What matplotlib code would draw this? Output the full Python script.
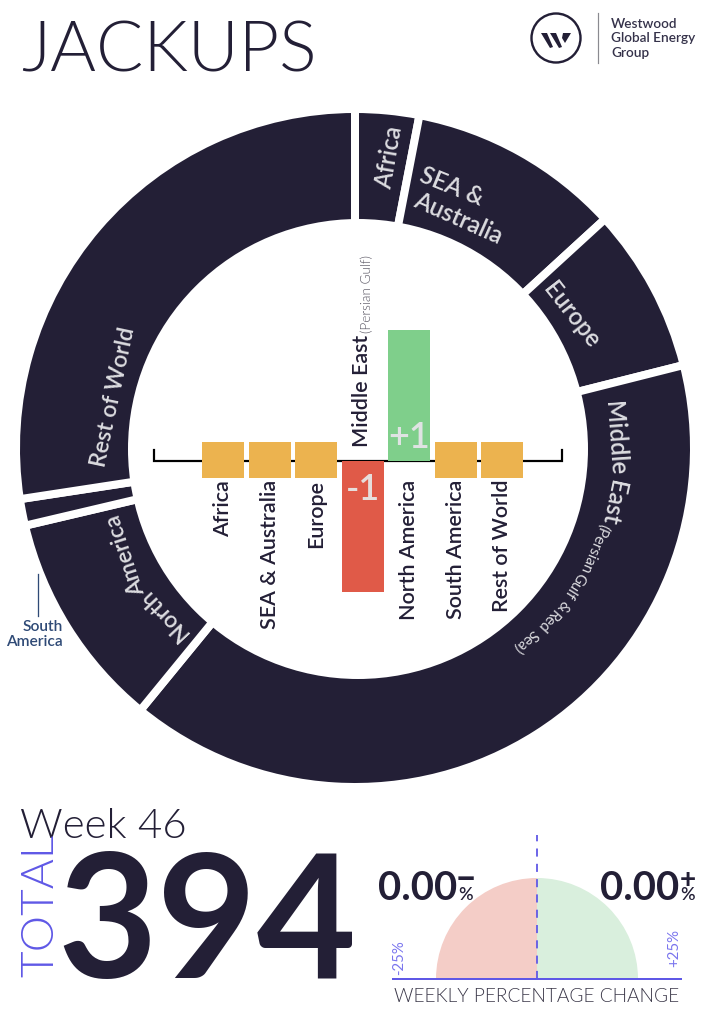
import numpy as np
import matplotlib
matplotlib.use("Agg")
import matplotlib.pyplot as plt
from matplotlib.patches import Wedge, Circle, Polygon

plt.rcParams['font.family'] = ['Lato', 'DejaVu Sans']

# ---- data ----
regions = ["Africa", "SEA & Australia", "Europe", "Middle East", "North America", "South America", "Rest of World"]
region_counts = [12, 40, 31, 157, 41, 5, 108]
bar_categories = ["Africa", "SEA & Australia", "Europe", "Middle East", "North America", "South America", "Rest of World"]
bar_changes = [0, 0, 0, -1, 1, 0, 0]
week_label = "Week 46"
total_label = "394"
pct_down = 0.00
pct_up = 0.00

W, H = 712, 1024
DARK = "#231f36"
YELLOW = "#ecb34f"
GREEN = "#7fcf8b"
RED = "#e05a48"
PURPLE = "#5f58e6"
NAVY = "#2f4a76"
LIGHT = 300
LAB = "#dcdce0"

fig = plt.figure(figsize=(W/100, H/100), dpi=100, facecolor="white")

def axes_px(x0, y0, x1, y1, **kw):
    return fig.add_axes([x0/W, 1-y1/H, (x1-x0)/W, (y1-y0)/H], **kw)

def fs(px):
    return px*0.72

# ---- donut ----
cx, cy, R = 355, 448, 339
axd = axes_px(cx-350, cy-350, cx+350, cy+350)
axd.pie(region_counts, radius=R, startangle=90, counterclock=False,
        colors=[DARK]*len(regions),
        wedgeprops=dict(edgecolor="white", linewidth=fs(8)))
axd.add_patch(Circle((3, -1), 230, fc="white", ec="none", zorder=5))
axd.set_xlim(-350, 350); axd.set_ylim(-350, 350); axd.axis("off")

# ---- centre bars ----
bx0 = 223; step = 46.5; base = 461; unit = 131
axb = axes_px(140, 250, 580, 640, facecolor="none")
axb.set_xlim((140-bx0)/step, (580-bx0)/step)
axb.set_ylim((base-640)/unit, (base-250)/unit)
axb.axis("off")
xs = np.arange(len(bar_categories))
axb.plot([(154-bx0)/step, (154-bx0)/step, (562-bx0)/step, (562-bx0)/step],
         [11/unit, 0, 0, 11/unit], color="black", lw=fs(2.2), solid_joinstyle="miter", zorder=1)
bar_w = 42/step
for x, v in zip(xs, bar_changes):
    if v > 0:
        axb.bar(x, v, width=bar_w, color=GREEN, zorder=2)
        axb.text(x, 24/unit, f"+{v}", ha="center", va="center", fontsize=fs(36), color="#dfe3e3", weight=600, zorder=3)
    elif v < 0:
        axb.bar(x, v, width=bar_w, color=RED, zorder=2)
        axb.text(x, -28/unit, f"{v}", ha="center", va="center", fontsize=fs(36), color="#e6dedc", weight=600, zorder=3)
    else:
        axb.bar(x, 36/unit, bottom=-17/unit, width=bar_w, color=YELLOW, zorder=2)
for x, c, v in zip(xs, bar_categories, bar_changes):
    if c == "Middle East":
        axb.text(x-0.02, 14/unit, c, rotation=90, ha="center", va="bottom", fontsize=fs(21.5), color=DARK, weight=600, zorder=3)
        axb.text(x+0.09, 128/unit, "(Persian Gulf)", rotation=90, ha="center", va="bottom", fontsize=fs(13.5), color="#55525f", weight=LIGHT, zorder=3)
    else:
        axb.text(x, -19/unit, c, rotation=90, ha="center", va="top", fontsize=fs(21.5), color=DARK, weight=600, zorder=3)

# ---- half circle gauge ----
gx, gy, gr = 537, 979, 101
axg = axes_px(gx-150, gy-150, gx+150, gy+10, facecolor="none")
axg.set_xlim(-150, 150); axg.set_ylim(-10, 150); axg.axis("off")
axg.add_patch(Wedge((0, 0), gr, 90, 180, color="#f4cdc7", lw=0))
axg.add_patch(Wedge((0, 0), gr, 0, 90, color="#d9efdd", lw=0))
axg.plot([-144, 144], [0, 0], color=PURPLE, lw=fs(2))
axg.plot([0, 0], [0, 144], color=PURPLE, lw=fs(1.8), dashes=(4.5, 4))

# ---- overlay text ----
ov = fig.add_axes([0, 0, 1, 1], facecolor="none")
ov.set_xlim(0, W); ov.set_ylim(H, 0); ov.axis("off")

ov.text(21, 71, "JACKUPS", fontsize=fs(70), weight=LIGHT, color=DARK, ha="left", va="baseline")

# logo
ov.add_patch(Circle((556, 38), 24.5, fill=False, ec=DARK, lw=fs(2.4)))
for pts in ([(541,33),(547,33),(553,47),(550,48)], [(550,33),(556,33),(562,47),(559,48)], [(563,33),(571,33),(565,43),(562,38)]):
    ov.add_patch(Polygon(pts, closed=True, fc=DARK, ec="none"))
ov.plot([598, 598], [13, 63], color="#8a8a90", lw=fs(1.2))
ov.text(611, 28, "Westwood", fontsize=fs(13.6), weight="semibold", color="#35324a", va="baseline")
ov.text(611, 42.5, "Global Energy", fontsize=fs(13.6), weight="semibold", color="#35324a", va="baseline")
ov.text(611, 57, "Group", fontsize=fs(13.6), weight="semibold", color="#35324a", va="baseline")

# donut labels
lab = dict(color=LAB, ha="center", va="center", rotation_mode="anchor", weight=600)
ov.text(389, 157, "Africa", rotation=80, fontsize=fs(24), **lab)
ov.text(452, 187, "SEA &", rotation=-22, fontsize=fs(24), **lab)
ov.text(458, 218, "Australia", rotation=-24, fontsize=fs(24), **lab)
ov.text(572, 315, "Europe", rotation=-52, fontsize=fs(24), **lab)
ov.text(113, 397, "Rest of World", rotation=78, fontsize=fs(23), **lab)

for word, th, r, rot in [("Middle", 87.8, 260, -86), ("East", 101.9, 263, -102)]:
    t = np.radians(th)
    ov.text(cx+r*np.sin(t), cy-r*np.cos(t), word, rotation=rot, fontsize=fs(24), **lab)
for word, th, r in [("(Persian", 112.8, 259), ("Gulf", 122, 259), ("&", 127.2, 260), ("Red", 131.9, 258), ("Sea)", 138.5, 257)]:
    t = np.radians(th)
    ov.text(cx+r*np.sin(t), cy-r*np.cos(t), word, rotation=-th, color=LAB, ha="center", va="center", rotation_mode="anchor", fontsize=fs(15), weight=400)
for word, x, y, rot in [("North", 164, 614, 133), ("America", 126, 555, 108)]:
    ov.text(x, y, word, rotation=rot, fontsize=fs(23), **lab)

ov.plot([38, 38], [574, 616], color=NAVY, lw=fs(1.3))
ov.text(63, 631, "South", fontsize=fs(15.5), color=NAVY, ha="right", va="baseline", weight=600)
ov.text(63, 646, "America", fontsize=fs(15.5), color=NAVY, ha="right", va="baseline", weight=600)

# bottom
ov.text(20, 838, week_label, fontsize=fs(42), weight=LIGHT, color=DARK, va="baseline")
ov.text(41, 977, "TOTAL", fontsize=fs(46), weight=LIGHT, color=PURPLE, rotation=90, ha="center", va="bottom", rotation_mode="default")
ov.text(57, 978, total_label, fontsize=fs(172), weight="bold", color=DARK, va="baseline")

ov.text(378, 900, f"{pct_down:.2f}", fontsize=fs(40), weight="bold", color=DARK, va="baseline")
ov.text(600, 900, f"{pct_up:.2f}", fontsize=fs(40), weight="bold", color=DARK, va="baseline")
ov.text(466, 900, "%", fontsize=fs(18), weight="semibold", color=DARK, ha="center", va="baseline")
ov.text(688, 900, "%", fontsize=fs(18), weight="semibold", color=DARK, ha="center", va="baseline")
ov.text(466, 890, "\u2013", fontsize=fs(38), weight="bold", color=DARK, ha="center", va="baseline")
ov.text(688, 888, "+", fontsize=fs(28), weight="bold", color=DARK, ha="center", va="baseline")
ov.text(399, 975, "-25%", fontsize=fs(15), weight=400, color="#7a75ee", rotation=90, ha="center", va="bottom")
ov.text(674, 967, "+25%", fontsize=fs(15), weight=400, color="#7a75ee", rotation=90, ha="center", va="bottom")
ov.text(394, 1002, "WEEKLY PERCENTAGE CHANGE", fontsize=fs(19.2), weight=LIGHT, color="#3a3748", va="baseline")

fig.savefig("out.png", dpi=100)
